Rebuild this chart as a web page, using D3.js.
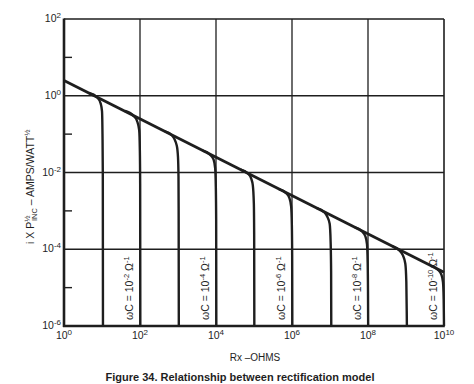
<!DOCTYPE html>
<html>
<head>
<meta charset="utf-8">
<script src="https://cdn.jsdelivr.net/npm/d3@7"></script>
<style>
  html, body { margin: 0; padding: 0; background: #fff; }
  svg { display: block; }
  text { font-family: "Liberation Sans", Arial, Helvetica, sans-serif; fill: #1e1e1e; }
</style>
</head>
<body>
<svg id="chart" width="474" height="384"></svg>
<script>
// ---------------- data ----------------
const xDomain = [1e0, 1e10];
const yDomain = [1e-6, 1e2];
const xTickValues = [1e0, 1e2, 1e4, 1e6, 1e8, 1e10];
const xTickExponents = ["0", "2", "4", "6", "8", "10"];
const yTickValues = [1e2, 1e0, 1e-2, 1e-4, 1e-6];
const yTickExponents = ["2", "0", "-2", "-4", "-6"];
const yMinorTicks = [1e1, 1e-1, 1e-3, 1e-5];
const xGridValues = [1e2, 1e4, 1e6, 1e8];
const yGridValues = [1e0, 1e-2, 1e-4];

// main straight line (i x P^-1/2 ~ R^-1/2)
const mainLineR = [1e0, 1e10];
const mainLineI = [2.5, 2.5e-5];

// one curve per omega*C value (Ω^-1)
const omegaC = [1e-1, 1e-2, 1e-3, 1e-4, 1e-5, 1e-6, 1e-7, 1e-8, 1e-9, 1e-10];
const curveR = [
  [4.5, 7.4, 9.2, 10.0, 10.3, 10.5, 10.6],
  [40, 70, 85, 95, 99, 101, 102],
  [450, 700, 930, 1000, 1030, 1040, 1050],
  [4500, 7000, 8600, 9500, 9900, 10100, 10200],
  [45000, 70000, 85000, 93000, 99000, 101000, 102000],
  [4.5e5, 7e5, 8.5e5, 9.5e5, 9.9e5, 1.01e6, 1.02e6],
  [4.5e6, 7e6, 8.5e6, 9.8e6, 1.04e7, 1.07e7, 1.08e7],
  [4.5e7, 7e7, 8.5e7, 9.4e7, 9.8e7, 1.0e8, 1.01e8],
  [4.5e8, 6.5e8, 8.3e8, 9.6e8, 1.02e9, 1.045e9, 1.055e9],
  [4.5e9, 7e9, 8.5e9, 9.4e9, 9.8e9, 9.95e9, 1.0e10]
];
const curveI = [
  [1.18, 0.92, 0.63, 0.40, 0.10, 0.01, 1e-6],
  [0.40, 0.29, 0.21, 0.13, 0.04, 0.005, 1e-6],
  [0.118, 0.092, 0.050, 0.025, 0.008, 0.001, 1e-6],
  [0.037, 0.029, 0.022, 0.013, 0.004, 0.0006, 1e-6],
  [0.0118, 0.0093, 0.0068, 0.0047, 0.0016, 0.00025, 1e-6],
  [3.7e-3, 2.9e-3, 2.2e-3, 1.3e-3, 4.5e-4, 7e-5, 1e-6],
  [1.18e-3, 9.3e-4, 7.0e-4, 4.6e-4, 1.5e-4, 2.5e-5, 1e-6],
  [3.7e-4, 2.9e-4, 2.2e-4, 1.35e-4, 4.5e-5, 8e-6, 1e-6],
  [1.18e-4, 9.6e-5, 6.9e-5, 4.2e-5, 1.4e-5, 2.5e-6, 1e-6],
  [3.7e-5, 2.9e-5, 2.2e-5, 1.4e-5, 5e-6, 1.5e-6, 1e-6]
];

// labelled curves
const labelR = [1e2, 1e4, 1e6, 1e8, 1e10];
const labelExponents = ["-2", "-4", "-6", "-8", "-10"];

const xTitle = "Rx \u2013OHMS";
const caption = "Figure 34.  Relationship between rectification model";

// ---------------- layout ----------------
const W = 474, H = 384;
const margin = { left: 64, right: 30, top: 19, bottom: 58 };
const svg = d3.select("#chart");
svg.append("rect").attr("width", W).attr("height", H).attr("fill", "#fff");

const x = d3.scaleLog().domain(xDomain).range([margin.left, W - margin.right]);
const y = d3.scaleLog().domain(yDomain).range([H - margin.bottom, margin.top]);
const ink = "#1e1e1e";

// grid
const grid = svg.append("g");
grid.selectAll("line.vx").data(xGridValues).join("line")
  .attr("x1", d => x(d)).attr("x2", d => x(d))
  .attr("y1", y(yDomain[1])).attr("y2", y(yDomain[0]))
  .attr("stroke", ink).attr("stroke-width", 1.3);
grid.selectAll("line.hy").data(yGridValues).join("line")
  .attr("y1", d => y(d)).attr("y2", d => y(d))
  .attr("x1", x(xDomain[0])).attr("x2", x(xDomain[1]))
  .attr("stroke", ink).attr("stroke-width", 1.3);

// minor ticks on left axis (inward)
grid.selectAll("line.mt").data(yMinorTicks).join("line")
  .attr("x1", x(xDomain[0])).attr("x2", x(xDomain[0]) + 8)
  .attr("y1", d => y(d)).attr("y2", d => y(d))
  .attr("stroke", ink).attr("stroke-width", 1.4);

// curve labels (rotated, with knock-out background) - drawn before curves
labelR.forEach((r, k) => {
  const g = svg.append("g");
  const tr = `translate(${x(r) - 7},${y(yDomain[0]) - 6}) rotate(-90)`;
  const t = g.append("text").attr("transform", tr).attr("font-size", 10.5);
  t.append("tspan").text("\u03c9C = 10");
  t.append("tspan").attr("font-size", 7.5).attr("dy", -4).text(labelExponents[k]);
  t.append("tspan").attr("dy", 4).text(" \u03a9");
  t.append("tspan").attr("font-size", 7.5).attr("dy", -4).text("-1");
  const bb = t.node().getBBox();
  g.insert("rect", "text").attr("transform", tr)
    .attr("x", bb.x - 1).attr("y", bb.y).attr("width", bb.width + 2).attr("height", bb.height)
    .attr("fill", "#fff");
});

// curves
const lineGen = d3.line().x(d => x(d[0])).y(d => y(d[1])).curve(d3.curveMonotoneX);
omegaC.forEach((w, k) => {
  const pts = curveR[k].map((r, j) => [r, curveI[k][j]]);
  svg.append("path").datum(pts)
    .attr("d", lineGen)
    .attr("fill", "none").attr("stroke", ink).attr("stroke-width", 2.4)
    .attr("stroke-linejoin", "round");
});

// main line
svg.append("path").datum(mainLineR.map((r, j) => [r, mainLineI[j]]))
  .attr("d", d3.line().x(d => x(d[0])).y(d => y(d[1])))
  .attr("fill", "none").attr("stroke", ink).attr("stroke-width", 2.8);

// frame
const x0 = x(xDomain[0]), x1 = x(xDomain[1]), yT = y(yDomain[1]), yB = y(yDomain[0]);
svg.append("line").attr("x1", x0).attr("x2", x1).attr("y1", yT).attr("y2", yT).attr("stroke", ink).attr("stroke-width", 1.5);
svg.append("line").attr("x1", x1).attr("x2", x1).attr("y1", yT).attr("y2", yB).attr("stroke", ink).attr("stroke-width", 1.6);
svg.append("line").attr("x1", x0).attr("x2", x0).attr("y1", yT - 0.5).attr("y2", yB + 1).attr("stroke", ink).attr("stroke-width", 2.6);
svg.append("line").attr("x1", x0 - 1).attr("x2", x1 + 0.8).attr("y1", yB).attr("y2", yB).attr("stroke", ink).attr("stroke-width", 2.6);

// x tick labels
const xt = svg.append("g");
xTickValues.forEach((v, k) => {
  const t = xt.append("text").attr("x", x(v)).attr("y", 339)
    .attr("text-anchor", "middle").attr("font-size", 10.5);
  t.append("tspan").text("10");
  t.append("tspan").attr("font-size", 8).attr("dy", -4).text(xTickExponents[k]);
});

// y tick labels
const ytg = svg.append("g");
yTickValues.forEach((v, k) => {
  const t = ytg.append("text").attr("x", 61).attr("y", y(v) + 3)
    .attr("text-anchor", "end").attr("font-size", 10.5);
  t.append("tspan").text("10");
  t.append("tspan").attr("font-size", 8).attr("dy", -4).text(yTickExponents[k]);
});

// x title
svg.append("text").attr("x", 255).attr("y", 361).attr("text-anchor", "middle")
  .attr("font-size", 10).text(xTitle);

// y title
const yt = svg.append("text").attr("transform", "translate(34,244) rotate(-90)")
  .attr("font-size", 10.5);
yt.append("tspan").text("i X P");
yt.append("tspan").attr("font-size", 7.5).attr("dy", -4.5).text("\u00bd");
yt.append("tspan").attr("font-size", 7.5).attr("dx", -5.5).attr("dy", 7.5).text("INC");
yt.append("tspan").attr("dy", -3).text("  \u2013  AMPS/WATT");
yt.append("tspan").attr("font-size", 7.5).attr("dy", -4.5).text("\u00bd");

// caption (at the very bottom, as in the reference)
svg.append("text").attr("x", 240).attr("y", 381).attr("text-anchor", "middle")
  .attr("font-size", 11).attr("font-weight", "bold").text(caption);
</script>
</body>
</html>
